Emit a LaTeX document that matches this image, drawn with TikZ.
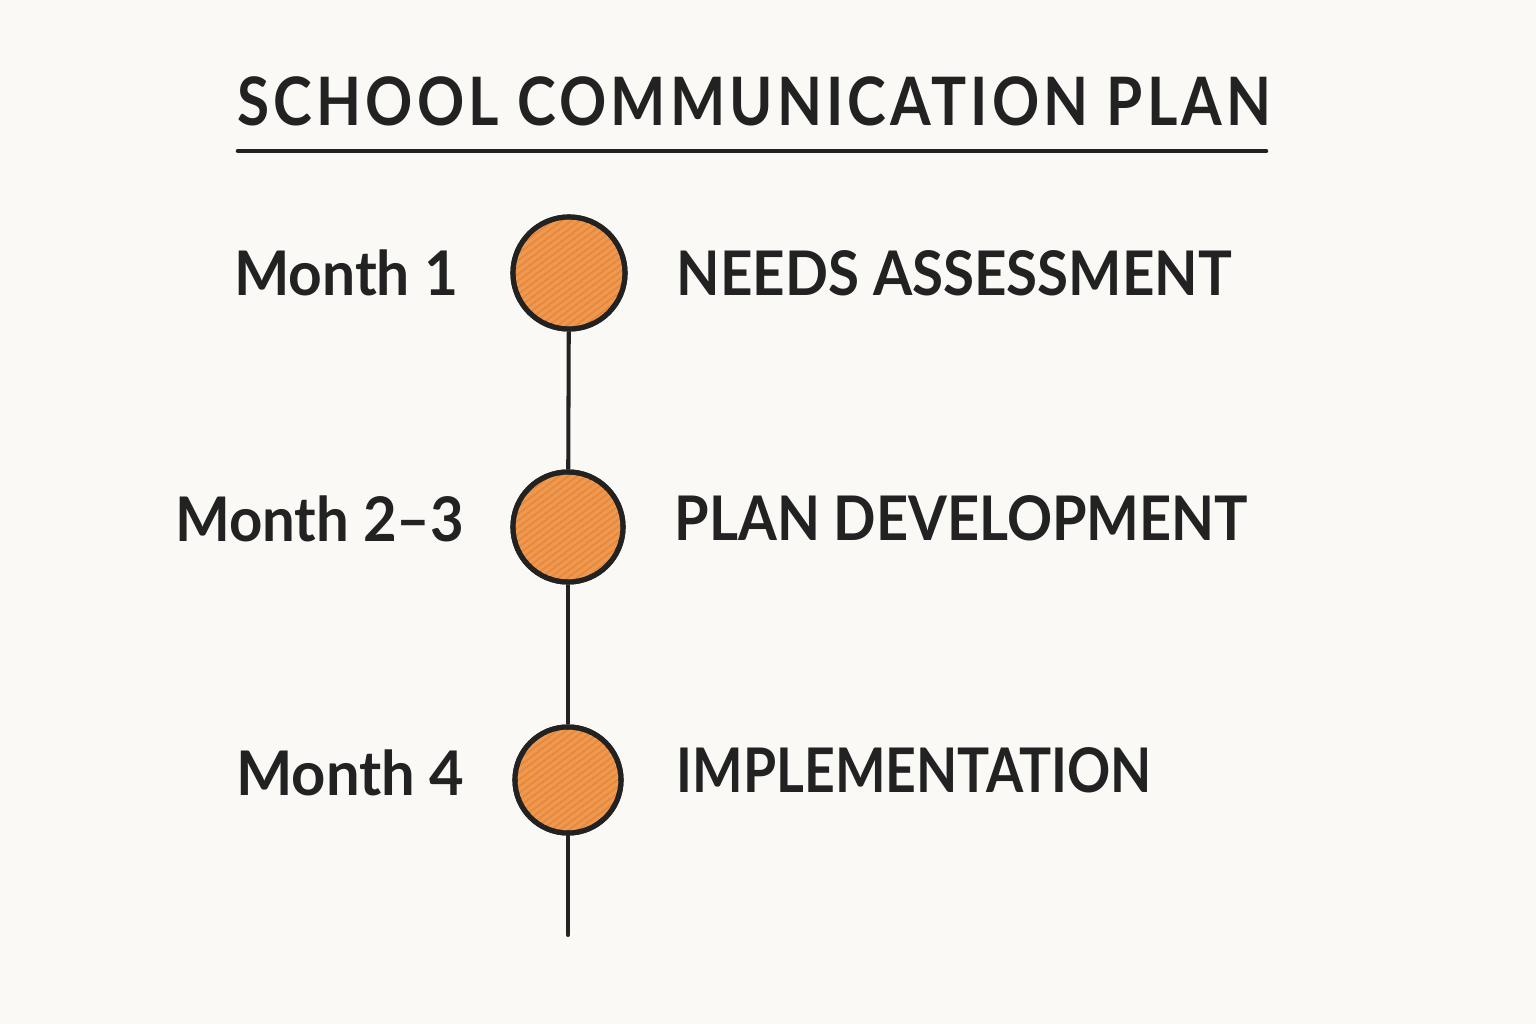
\documentclass[tikz,border=0pt]{standalone}
\usepackage{fontspec}
\setmainfont{Lato}
\usepackage{graphicx}
\usetikzlibrary{calc}
\definecolor{bg}{HTML}{FAF9F5}
\definecolor{ink}{HTML}{222222}
\definecolor{dot}{HTML}{E8893A}
\definecolor{dotlight}{HTML}{F2A766}
\newcommand\fitw[2]{\setbox0\hbox{#2}\pgfmathsetmacro\fitfac{#1/\wd0}\scalebox{\fitfac}[1]{\copy0}}
\begin{document}
\begin{tikzpicture}[x=0.01cm,y=-0.01cm,
  milestone/.style={circle,draw=ink,line width=1.45pt,fill=dot,inner sep=0pt},
  leftlbl/.style={anchor=base east,font=\fontsize{17.5}{20}\selectfont\bfseries,text=ink,inner sep=0pt},
  rightlbl/.style={anchor=base west,font=\fontsize{17.5}{20}\selectfont\bfseries,text=ink,inner sep=0pt},
  conn/.style={draw=ink,line width=1.15pt}]
\fill[bg] (0,0) rectangle (1536,1024);
\useasboundingbox (0,0) rectangle (1536,1024);
\node[anchor=base west,inner sep=0pt,text=ink,font=\fontsize{19}{22}\selectfont\bfseries\addfontfeatures{LetterSpace=7}] (title) at (237,125) {\fitw{10.33cm}{SCHOOL COMMUNICATION PLAN}};
\coordinate (ulA) at (238,151);
\coordinate (ulB) at (1266,151);
\draw[ink,line width=1.3pt,line cap=round] (ulA) -- (ulB);
\coordinate (bot) at (568,935);
\node[milestone,minimum size=1.12cm] (c1) at (569,273) {};
\node[milestone,minimum size=1.10cm] (c2) at (568,527) {};
\node[milestone,minimum size=1.06cm] (c3) at (568,780) {};
\foreach \c/\r in {c1/0.56,c2/0.55,c3/0.53}{
  \begin{scope}
    \clip (\c.center) circle (\r cm);
    \foreach \k in {-12,...,12}{
      \draw[dotlight,opacity=0.55,line width=0.9pt] ($(\c.center)+(\k*9-80,60)$) -- ++(160,-120);
    }
  \end{scope}
  \draw[ink,line width=1.45pt] (\c.center) circle (\r cm);
}
\draw[conn] (c1) -- (c2);
\draw[conn] (c2) -- (c3);
\draw[conn,line cap=round] (c3) -- (bot);
\node[leftlbl] (l1) at (459,295) {\fitw{2.24cm}{Month 1}};
\node[leftlbl] (l2) at (465,541) {\fitw{2.89cm}{Month 2–3}};
\node[leftlbl] (l3) at (465,795) {\fitw{2.28cm}{Month 4}};
\node[rightlbl] (r1) at (676,295) {\fitw{5.55cm}{NEEDS ASSESSMENT}};
\node[rightlbl] (r2) at (674,540) {\fitw{5.73cm}{PLAN DEVELOPMENT}};
\node[rightlbl] (r3) at (676,792) {\fitw{4.75cm}{IMPLEMENTATION}};
\end{tikzpicture}
\end{document}
